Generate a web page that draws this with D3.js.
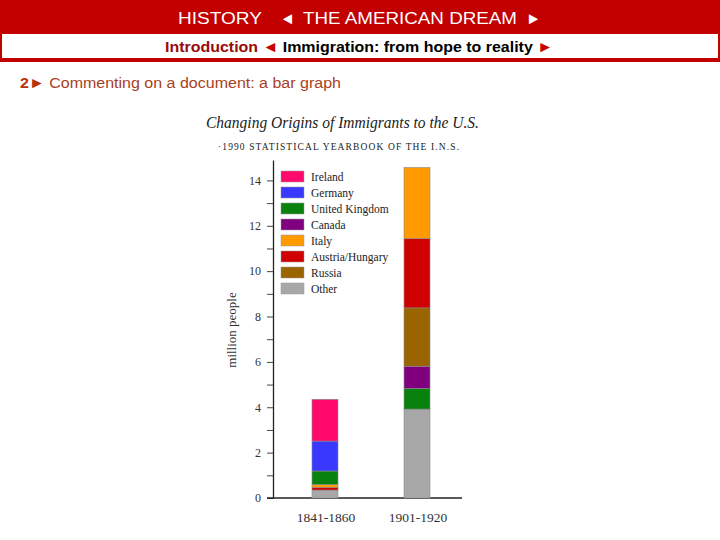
<!DOCTYPE html>
<html>
<head>
<meta charset="utf-8">
<script src="https://cdn.jsdelivr.net/npm/d3@7"></script>
<style>
  html, body { margin: 0; padding: 0; background: #fff; }
  svg { display: block; }
</style>
</head>
<body>
<script>
// ---- Data ----
const periods = ["1841-1860", "1901-1920"];
const countries = ["Ireland", "Germany", "United Kingdom", "Canada", "Italy", "Austria/Hungary", "Russia", "Other"];
const colors = ["#ff0a6c", "#3838ff", "#08820c", "#800080", "#ff9a00", "#d00000", "#9a6400", "#a8a8a8"];
// values in million people, per country, [1841-1860, 1901-1920]
const ireland   = [1.84, 0.0];
const germany   = [1.32, 0.0];
const ukingdom  = [0.59, 0.91];
const canada    = [0.0, 0.98];
const italy     = [0.13, 3.13];
const austria   = [0.12, 3.06];
const russia    = [0.0, 2.57];
const other     = [0.35, 3.92];
// stacking order (bottom to top) used in each bar
const stackOrder1 = ["Other", "Russia", "Austria/Hungary", "Italy", "Canada", "United Kingdom", "Germany", "Ireland"];
const stackOrder2 = ["Other", "United Kingdom", "Canada", "Russia", "Austria/Hungary", "Italy", "Germany", "Ireland"];
const yTicks = [0, 1, 2, 3, 4, 5, 6, 7, 8, 9, 10, 11, 12, 13, 14];

const valueTable = {
  "Ireland": ireland, "Germany": germany, "United Kingdom": ukingdom, "Canada": canada,
  "Italy": italy, "Austria/Hungary": austria, "Russia": russia, "Other": other
};
const orders = [stackOrder1, stackOrder2];
const colorScale = d3.scaleOrdinal().domain(countries).range(colors);

const W = 720, H = 540;
const svg = d3.select("body").append("svg").attr("width", W).attr("height", H);
const sans = "Arial, 'Liberation Sans', sans-serif";
const serif = "'Liberation Serif', 'DejaVu Serif', serif";

// ---- Header ----
svg.append("rect").attr("x", 0).attr("y", 0).attr("width", W).attr("height", 62).attr("fill", "#c20000");
svg.append("rect").attr("x", 2).attr("y", 34).attr("width", 716).attr("height", 24).attr("fill", "#fff");
const headParts = [
  { t: "HISTORY", x: 178, len: 84 },
  { t: "\u25C4", x: 280, len: 15 },
  { t: "THE AMERICAN DREAM", x: 303, len: 214 },
  { t: "\u25BA", x: 526, len: 15 }
];
svg.append("g").selectAll("text").data(headParts).join("text")
  .attr("x", d => d.x).attr("y", 23.5)
  .attr("font-family", sans).attr("font-size", 16.5).attr("fill", "#fff")
  .attr("textLength", d => d.len).attr("lengthAdjust", "spacingAndGlyphs")
  .text(d => d.t);

const sub = svg.append("text").attr("x", 165).attr("y", 52)
  .attr("font-family", sans).attr("font-size", 15.5).attr("font-weight", "bold")
  .attr("textLength", 388).attr("lengthAdjust", "spacingAndGlyphs");
sub.append("tspan").attr("fill", "#9a0a0a").text("Introduction ");
sub.append("tspan").attr("fill", "#c80000").text("\u25C4 ");
sub.append("tspan").attr("fill", "#000").text("Immigration: from hope to reality ");
sub.append("tspan").attr("fill", "#c80000").text("\u25BA");

const line3 = svg.append("text").attr("x", 20).attr("y", 88)
  .attr("font-family", sans).attr("font-size", 15.5)
  .attr("textLength", 321).attr("lengthAdjust", "spacingAndGlyphs");
line3.append("tspan").attr("fill", "#b8320a").attr("font-weight", "bold").text("2\u25BA ");
line3.append("tspan").attr("fill", "#a8401e").text("Commenting on a document: a bar graph");

// ---- Chart titles ----
svg.append("text").attr("x", 206).attr("y", 128)
  .attr("font-family", serif).attr("font-style", "italic")
  .attr("font-size", 16.5).attr("fill", "#222").attr("textLength", 273).attr("lengthAdjust", "spacingAndGlyphs")
  .text("Changing Origins of Immigrants to the U.S.");
svg.append("text").attr("x", 218).attr("y", 150)
  .attr("font-family", serif)
  .attr("font-size", 9.5).attr("fill", "#222").attr("textLength", 241).attr("lengthAdjust", "spacing")
  .text("\u00B71990 STATISTICAL YEARBOOK OF THE I.N.S.");

// ---- Scales ----
const y = d3.scaleLinear().domain([0, 14.9]).range([498, 160]);
const x = d3.scalePoint().domain(periods).range([279, 463]).padding(0.5);
const barW = 26;
const axisX = 273;

// ---- Y axis ----
const yAxis = d3.axisLeft(y).tickValues(yTicks).tickSize(6).tickSizeOuter(0).tickPadding(6)
  .tickFormat(d => d % 2 === 0 ? d : "");
const gy = svg.append("g").attr("transform", `translate(${axisX},0)`).call(yAxis);
gy.select(".domain").attr("stroke", "#222").attr("stroke-width", 1.3);
gy.selectAll(".tick line").attr("stroke", "#444");
gy.selectAll(".tick text").attr("font-family", serif)
  .attr("font-size", 12).attr("fill", "#333");

// baseline
svg.append("line").attr("x1", 267).attr("x2", 462).attr("y1", y(0)).attr("y2", y(0))
  .attr("stroke", "#222").attr("stroke-width", 1.3);

// y label
svg.append("text").attr("transform", `translate(236,330) rotate(-90)`).attr("text-anchor", "middle")
  .attr("font-family", serif).attr("font-size", 13).attr("fill", "#333")
  .text("million people");

// ---- Bars ----
periods.forEach((p, i) => {
  let cum = 0;
  const segs = orders[i].map(c => {
    const v = valueTable[c][i];
    const s = { country: c, y0: cum, y1: cum + v };
    cum += v;
    return s;
  }).filter(s => s.y1 > s.y0);
  svg.append("g").selectAll("rect").data(segs).join("rect")
    .attr("x", x(p) - barW / 2).attr("width", barW)
    .attr("y", d => y(d.y1)).attr("height", d => y(d.y0) - y(d.y1))
    .attr("fill", d => colorScale(d.country))
    .attr("stroke", "#8a8a8a").attr("stroke-width", 0.6);
});

// x labels
svg.append("g").selectAll("text").data(periods).join("text")
  .attr("x", d => x(d) + 1).attr("y", 522).attr("text-anchor", "middle")
  .attr("font-family", serif).attr("font-size", 13.5).attr("fill", "#333")
  .text(d => d);

// ---- Legend ----
const lg = svg.append("g").selectAll("g").data(countries).join("g")
  .attr("transform", (d, i) => `translate(281,${171 + i * 16})`);
lg.append("rect").attr("width", 23).attr("height", 11).attr("fill", d => colorScale(d))
  .attr("stroke", "#999").attr("stroke-width", 0.5);
lg.append("text").attr("x", 30).attr("y", 9.5)
  .attr("font-family", serif).attr("font-size", 11.5).attr("fill", "#222")
  .text(d => d);
</script>
</body>
</html>
